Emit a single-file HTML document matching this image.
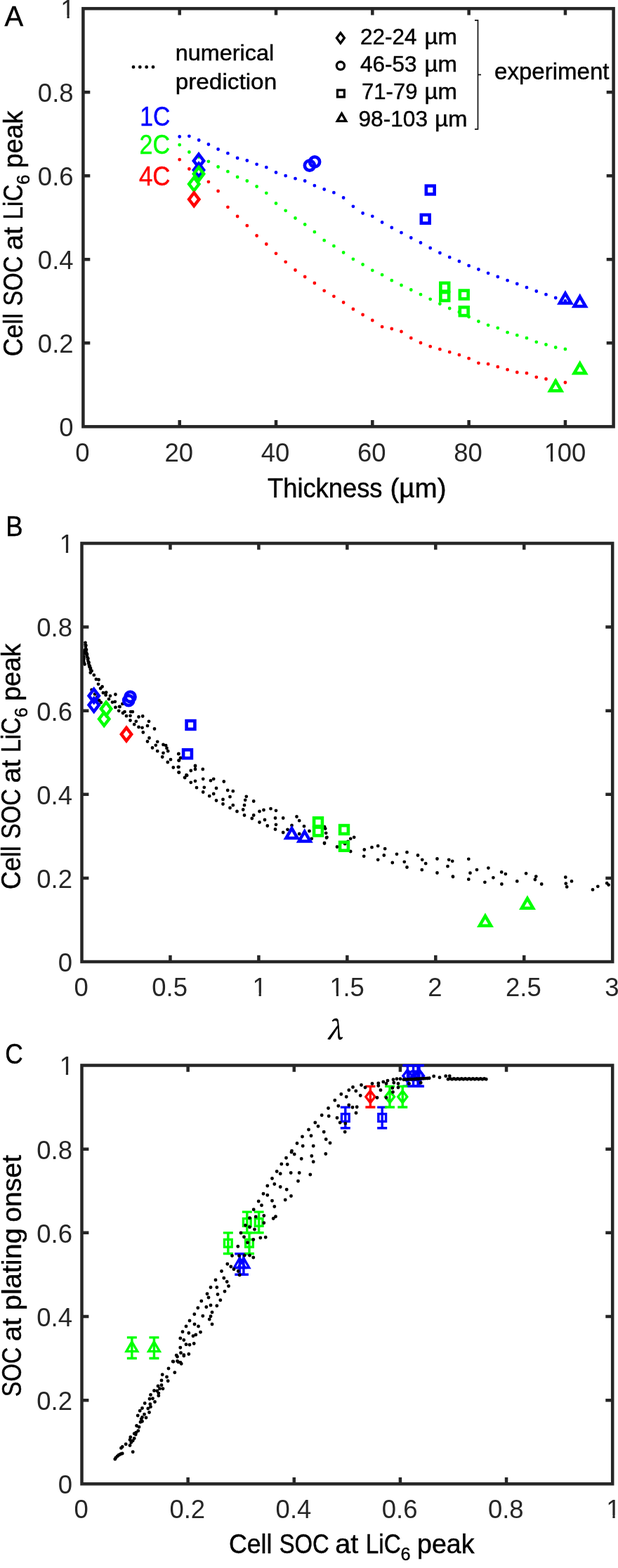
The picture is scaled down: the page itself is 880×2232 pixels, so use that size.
<!DOCTYPE html>
<html lang="en"><head><meta charset="utf-8"><title>Figure</title>
<style>html,body{margin:0;padding:0;background:#fff}svg{display:block}text{font-family:'Liberation Sans', Arial, sans-serif}</style></head><body>
<svg width="880" height="2232" viewBox="0 0 880 2232">
<rect width="880" height="2232" fill="#fff"/>
<g id="panelA">
<path d="M255.7 227.2h0M269.4 240.5h0M283.2 250.0h0M296.9 258.8h0M310.6 272.0h0M324.4 294.8h0M338.1 308.0h0M351.8 321.2h0M365.6 335.5h0M379.3 347.5h0M393.0 360.8h0M406.7 372.8h0M420.5 384.5h0M434.2 394.0h0M447.9 403.0h0M461.7 413.8h0M475.4 421.8h0M489.1 430.5h0M502.9 440.0h0M516.6 448.0h0M530.3 456.0h0M544.1 465.2h0M557.8 468.0h0M571.5 472.0h0M585.3 481.2h0M599.0 488.0h0M612.7 493.2h0M626.4 497.2h0M640.2 501.2h0M653.9 505.2h0M667.6 510.2h0M681.4 516.8h0M695.1 518.2h0M708.8 522.2h0M722.6 526.2h0M736.3 530.0h0M750.0 531.2h0M763.8 536.8h0M777.5 539.5h0M791.2 542.5h0M804.9 544.5h0" stroke="#ff0000" stroke-width="4.80" stroke-linecap="round" fill="none"/>
<path d="M255.7 206.2h0M269.4 216.5h0M283.2 223.5h0M296.9 229.8h0M310.6 237.5h0M324.4 244.2h0M338.1 252.0h0M351.8 257.5h0M365.6 265.5h0M379.3 274.8h0M393.0 289.5h0M406.7 299.8h0M420.5 310.5h0M434.2 319.5h0M447.9 330.2h0M461.7 342.2h0M475.4 350.2h0M489.1 359.5h0M502.9 368.8h0M516.6 376.5h0M530.3 384.8h0M544.1 391.2h0M557.8 399.2h0M571.5 406.0h0M585.3 412.5h0M599.0 419.2h0M612.7 425.8h0M626.4 432.5h0M640.2 439.0h0M653.9 444.2h0M667.6 451.0h0M681.4 457.5h0M695.1 462.8h0M708.8 466.8h0M722.6 473.2h0M736.3 477.2h0M750.0 481.2h0M763.8 486.8h0M777.5 490.5h0M791.2 494.5h0M804.9 497.0h0" stroke="#00ff00" stroke-width="4.80" stroke-linecap="round" fill="none"/>
<path d="M255.7 194.5h0M269.4 193.8h0M283.2 199.5h0M296.9 205.5h0M310.6 212.5h0M324.4 218.2h0M338.1 225.0h0M351.8 228.5h0M365.6 233.8h0M379.3 238.2h0M393.0 245.5h0M406.7 250.2h0M420.5 254.2h0M434.2 257.5h0M447.9 264.2h0M461.7 269.5h0M475.4 274.2h0M489.1 281.5h0M502.9 293.8h0M516.6 303.5h0M530.3 307.8h0M544.1 316.5h0M557.8 324.0h0M571.5 331.2h0M585.3 338.5h0M599.0 345.5h0M612.7 353.0h0M626.4 360.0h0M640.2 366.2h0M653.9 372.0h0M667.6 378.2h0M681.4 383.5h0M695.1 388.8h0M708.8 394.0h0M722.6 399.2h0M736.3 404.0h0M750.0 409.2h0M763.8 414.5h0M777.5 419.2h0M791.2 424.0h0M804.9 428.5h0" stroke="#0000ff" stroke-width="4.80" stroke-linecap="round" fill="none"/>
<path d="M283.00 219.50L290.15 228.90L283.00 238.30L275.85 228.90Z" fill="none" stroke="#0000ff" stroke-width="4.50" stroke-linejoin="miter" stroke-miterlimit="10"/>
<path d="M283.00 232.60L290.15 242.00L283.00 251.40L275.85 242.00Z" fill="none" stroke="#0000ff" stroke-width="4.50" stroke-linejoin="miter" stroke-miterlimit="10"/>
<circle cx="440.85" cy="235.57" r="7.00" fill="none" stroke="#0000ff" stroke-width="4.70"/>
<circle cx="448.10" cy="230.45" r="7.00" fill="none" stroke="#0000ff" stroke-width="4.70"/>
<rect x="606.85" y="264.60" width="11.80" height="11.80" fill="none" stroke="#0000ff" stroke-width="4.60"/>
<rect x="599.85" y="305.85" width="11.80" height="11.80" fill="none" stroke="#0000ff" stroke-width="4.60"/>
<path d="M805.00 417.55L813.10 431.58L796.90 431.58Z" fill="none" stroke="#0000ff" stroke-width="4.50" stroke-linejoin="miter" stroke-miterlimit="10"/>
<path d="M825.75 422.05L833.85 436.08L817.65 436.08Z" fill="none" stroke="#0000ff" stroke-width="4.50" stroke-linejoin="miter" stroke-miterlimit="10"/>
<path d="M283.00 238.20L290.15 247.60L283.00 257.00L275.85 247.60Z" fill="none" stroke="#00ff00" stroke-width="4.50" stroke-linejoin="miter" stroke-miterlimit="10"/>
<path d="M276.25 252.60L283.40 262.00L276.25 271.40L269.10 262.00Z" fill="none" stroke="#00ff00" stroke-width="4.50" stroke-linejoin="miter" stroke-miterlimit="10"/>
<rect x="627.35" y="402.85" width="11.80" height="11.80" fill="none" stroke="#00ff00" stroke-width="4.60"/>
<rect x="627.35" y="416.10" width="11.80" height="11.80" fill="none" stroke="#00ff00" stroke-width="4.60"/>
<rect x="654.85" y="413.60" width="11.80" height="11.80" fill="none" stroke="#00ff00" stroke-width="4.60"/>
<rect x="654.85" y="437.35" width="11.80" height="11.80" fill="none" stroke="#00ff00" stroke-width="4.60"/>
<path d="M825.75 517.25L833.85 531.28L817.65 531.28Z" fill="none" stroke="#00ff00" stroke-width="4.50" stroke-linejoin="miter" stroke-miterlimit="10"/>
<path d="M791.25 542.25L799.35 556.28L783.15 556.28Z" fill="none" stroke="#00ff00" stroke-width="4.50" stroke-linejoin="miter" stroke-miterlimit="10"/>
<path d="M276.25 274.35L283.40 283.75L276.25 293.15L269.10 283.75Z" fill="none" stroke="#ff0000" stroke-width="4.50" stroke-linejoin="miter" stroke-miterlimit="10"/>
<g stroke="#262626" stroke-width="4.50" fill="none" stroke-linecap="butt"><rect x="118.40" y="12.20" width="755.20" height="595.10"/><path d="M255.71 607.30v-9.20M255.71 12.20v9.20M393.02 607.30v-9.20M393.02 12.20v9.20M530.33 607.30v-9.20M530.33 12.20v9.20M667.64 607.30v-9.20M667.64 12.20v9.20M804.95 607.30v-9.20M804.95 12.20v9.20M118.40 488.28h9.90M873.60 488.28h-9.90M118.40 369.26h9.90M873.60 369.26h-9.90M118.40 250.24h9.90M873.60 250.24h-9.90M118.40 131.22h9.90M873.60 131.22h-9.90"/></g>
<g transform="translate(104.60 0) scale(0.965 1) translate(-104.60 0)">
<text x="83.58" y="621.10" font-size="37.80" fill="#262626">0</text>
</g>
<g transform="translate(104.60 0) scale(0.965 1) translate(-104.60 0)">
<text x="52.04" y="502.08" font-size="37.80" fill="#262626">0.2</text>
</g>
<g transform="translate(104.60 0) scale(0.965 1) translate(-104.60 0)">
<text x="52.04" y="383.06" font-size="37.80" fill="#262626">0.4</text>
</g>
<g transform="translate(104.60 0) scale(0.965 1) translate(-104.60 0)">
<text x="52.04" y="264.04" font-size="37.80" fill="#262626">0.6</text>
</g>
<g transform="translate(104.60 0) scale(0.965 1) translate(-104.60 0)">
<text x="52.04" y="145.02" font-size="37.80" fill="#262626">0.8</text>
</g>
<g transform="translate(104.60 0) scale(0.965 1) translate(-104.60 0)">
<text x="83.58" y="26.00" font-size="37.80" fill="#262626"><tspan dx="2.0">1</tspan></text>
<path d="M85.15 21.70h9.98v5.14h-9.98zM98.49 21.70h8.92v5.14h-8.92z" fill="#fff"/>
</g>
<g transform="translate(117.40 0) scale(0.965 1) translate(-117.40 0)">
<text x="106.89" y="656.60" font-size="37.80" fill="#262626">0</text>
</g>
<g transform="translate(254.71 0) scale(0.965 1) translate(-254.71 0)">
<text x="233.68" y="656.60" font-size="37.80" fill="#262626">20</text>
</g>
<g transform="translate(392.02 0) scale(0.965 1) translate(-392.02 0)">
<text x="370.99" y="656.60" font-size="37.80" fill="#262626">40</text>
</g>
<g transform="translate(529.33 0) scale(0.965 1) translate(-529.33 0)">
<text x="508.30" y="656.60" font-size="37.80" fill="#262626">60</text>
</g>
<g transform="translate(666.64 0) scale(0.965 1) translate(-666.64 0)">
<text x="645.61" y="656.60" font-size="37.80" fill="#262626">80</text>
</g>
<g transform="translate(803.95 0) scale(0.965 1) translate(-803.95 0)">
<text x="772.41" y="656.60" font-size="37.80" fill="#262626"><tspan dx="1.4">1</tspan><tspan dx="-1.4">00</tspan></text>
<path d="M773.98 652.30h9.38v5.14h-9.38zM786.72 652.30h8.92v5.14h-8.92z" fill="#fff"/>
</g>
<text x="6.50" y="37.00" font-size="40.00" fill="#000"  stroke="#000" stroke-width="0.45">A</text>
<text x="381.00" y="707.50" font-size="38.00" fill="#000" textLength="163.50" lengthAdjust="spacingAndGlyphs"  stroke="#000" stroke-width="0.45">Thickness</text>
<text x="555.50" y="707.50" font-size="38.00" fill="#000" textLength="80.00" lengthAdjust="spacingAndGlyphs"  stroke="#000" stroke-width="0.45">(µm)</text>
<g transform="translate(32.10 505.00) rotate(-90)">
<text x="-2.30" y="0.00" font-size="38.00" fill="#000" textLength="61.50" lengthAdjust="spacingAndGlyphs"  stroke="#000" stroke-width="0.45">Cell</text>
<text x="69.50" y="0.00" font-size="38.00" fill="#000" textLength="71.00" lengthAdjust="spacingAndGlyphs"  stroke="#000" stroke-width="0.45">SOC</text>
<text x="149.00" y="0.00" font-size="38.00" fill="#000" textLength="33.00" lengthAdjust="spacingAndGlyphs"  stroke="#000" stroke-width="0.45">at</text>
<text x="192.50" y="0.00" font-size="38.00" fill="#000" textLength="50.00" lengthAdjust="spacingAndGlyphs"  stroke="#000" stroke-width="0.45">LiC</text>
<text x="242.30" y="10.00" font-size="26.00" fill="#000" textLength="14.00" lengthAdjust="spacingAndGlyphs"  stroke="#000" stroke-width="0.45">6</text>
<text x="265.80" y="0.00" font-size="38.00" fill="#000" textLength="81.50" lengthAdjust="spacingAndGlyphs"  stroke="#000" stroke-width="0.45">peak</text>
</g>
<path d="M190.0 95.4h0M199.3 95.4h0M208.7 95.4h0M218.0 95.4h0" stroke="#000" stroke-width="4.80" stroke-linecap="round" fill="none"/>
<text x="249.70" y="85.60" font-size="32.00" fill="#000" textLength="140.50" lengthAdjust="spacingAndGlyphs"  stroke="#000" stroke-width="0.45">numerical</text>
<text x="249.70" y="127.30" font-size="32.00" fill="#000" textLength="144.50" lengthAdjust="spacingAndGlyphs"  stroke="#000" stroke-width="0.45">prediction</text>
<path d="M484.90 46.70L490.40 54.10L484.90 61.50L479.40 54.10Z" fill="none" stroke="#000" stroke-width="3.30" stroke-linejoin="miter" stroke-miterlimit="10"/>
<circle cx="484.90" cy="93.60" r="5.60" fill="none" stroke="#000" stroke-width="3.30"/>
<rect x="480.50" y="128.20" width="9.80" height="9.80" fill="none" stroke="#000" stroke-width="3.30"/>
<path d="M486.50 161.43L492.80 172.34L480.20 172.34Z" fill="none" stroke="#000" stroke-width="3.30" stroke-linejoin="miter" stroke-miterlimit="10"/>
<text x="513.00" y="63.30" font-size="31.50" fill="#000" textLength="80.50" lengthAdjust="spacingAndGlyphs"  stroke="#000" stroke-width="0.45">22-24</text>
<text x="604.50" y="63.30" font-size="31.50" fill="#000" textLength="46.50" lengthAdjust="spacingAndGlyphs"  stroke="#000" stroke-width="0.45">µm</text>
<text x="513.00" y="102.30" font-size="31.50" fill="#000" textLength="80.50" lengthAdjust="spacingAndGlyphs"  stroke="#000" stroke-width="0.45">46-53</text>
<text x="604.50" y="102.30" font-size="31.50" fill="#000" textLength="46.50" lengthAdjust="spacingAndGlyphs"  stroke="#000" stroke-width="0.45">µm</text>
<text x="515.00" y="141.30" font-size="31.50" fill="#000" textLength="79.50" lengthAdjust="spacingAndGlyphs"  stroke="#000" stroke-width="0.45">71-79</text>
<text x="604.50" y="141.30" font-size="31.50" fill="#000" textLength="46.50" lengthAdjust="spacingAndGlyphs"  stroke="#000" stroke-width="0.45">µm</text>
<text x="510.50" y="180.30" font-size="31.50" fill="#000" textLength="98.50" lengthAdjust="spacingAndGlyphs"  stroke="#000" stroke-width="0.45">98-103</text>
<text x="619.00" y="180.30" font-size="31.50" fill="#000" textLength="46.50" lengthAdjust="spacingAndGlyphs"  stroke="#000" stroke-width="0.45">µm</text>
<path d="M676 28.8H680.5V183.8H676M680.5 106.3H685" stroke="#111" stroke-width="1.7" fill="none"/>
<text x="704.00" y="112.50" font-size="32.50" fill="#000" textLength="163.50" lengthAdjust="spacingAndGlyphs"  stroke="#000" stroke-width="0.45">experiment</text>
<text x="199.30" y="179.00" font-size="38.00" fill="#0000ff" textLength="43.00" lengthAdjust="spacingAndGlyphs"  stroke="#0000ff" stroke-width="0.45">1C</text>
<text x="198.50" y="218.50" font-size="38.00" fill="#00ff00" textLength="43.50" lengthAdjust="spacingAndGlyphs"  stroke="#00ff00" stroke-width="0.45">2C</text>
<text x="198.00" y="263.70" font-size="38.00" fill="#ff0000" textLength="44.50" lengthAdjust="spacingAndGlyphs"  stroke="#ff0000" stroke-width="0.45">4C</text>
</g>
<g id="panelB">
<path d="M121.5 914.8h0M121.6 917.5h0M121.9 920.0h0M122.1 923.1h0M122.5 926.2h0M123.1 929.4h0M123.8 932.5h0M124.4 935.6h0M125.0 938.8h0M125.6 941.6h0M126.2 944.4h0M126.9 946.9h0M127.5 949.4h0M128.8 953.1h0M130.6 955.0h0M128.8 957.5h0M133.8 960.9h0M136.9 966.9h0M140.6 967.5h0M140.0 973.8h0M145.6 977.5h0M143.1 980.0h0M130.6 981.9h0M146.9 986.2h0M151.2 985.6h0M150.6 989.4h0M156.9 990.6h0M164.4 988.5h0M155.0 995.2h0M160.0 999.6h0M163.8 998.8h0M164.4 1006.9h0M170.6 1006.0h0M174.4 1001.9h0M120.5 925.6h0M119.8 930.6h0M119.4 935.0h0M119.1 940.0h0M119.6 943.1h0M120.6 945.6h0M120.0 928.1h0M119.5 937.5h0M122.4 918.8h0M123.0 925.0h0M124.0 931.2h0M125.4 937.5h0M126.6 943.1h0M127.9 948.1h0M129.0 951.2h0M135.0 988.1h0M138.1 992.5h0M141.2 996.9h0M143.8 1000.0h0M164.5 1006.8h0M170.0 1005.8h0M169.2 1011.8h0M175.0 1015.0h0M177.5 1013.2h0M180.0 1019.2h0M185.5 1018.8h0M186.2 1013.2h0M188.8 1013.2h0M185.5 1025.5h0M197.5 1020.5h0M203.2 1019.5h0M193.8 1026.8h0M191.2 1031.2h0M197.5 1035.0h0M202.5 1035.8h0M212.0 1026.8h0M210.0 1033.2h0M220.0 1037.5h0M203.8 1042.5h0M212.5 1050.5h0M210.0 1055.5h0M224.2 1055.8h0M221.8 1060.8h0M217.0 1064.5h0M232.5 1060.0h0M236.2 1061.2h0M237.5 1065.0h0M239.2 1069.2h0M224.2 1069.2h0M232.5 1071.8h0M231.2 1077.5h0M243.0 1081.2h0M238.8 1085.0h0M254.2 1073.2h0M257.5 1078.8h0M255.0 1082.5h0M246.8 1092.5h0M253.8 1091.8h0M255.0 1099.5h0M278.0 1090.0h0M278.0 1095.0h0M271.8 1097.0h0M288.8 1095.0h0M265.5 1103.2h0M263.2 1107.0h0M254.5 1073.0h0M257.0 1078.8h0M254.5 1082.5h0M254.5 1091.8h0M254.5 1099.5h0M278.0 1090.5h0M278.0 1095.0h0M271.8 1097.0h0M288.8 1095.0h0M266.2 1103.8h0M263.0 1106.8h0M271.8 1113.8h0M278.0 1111.8h0M289.2 1108.8h0M300.0 1111.2h0M304.2 1108.8h0M318.8 1112.5h0M280.0 1121.2h0M290.8 1120.8h0M289.2 1127.5h0M308.0 1122.0h0M298.2 1133.2h0M304.2 1130.0h0M324.2 1125.0h0M331.8 1126.2h0M308.0 1139.5h0M317.5 1138.0h0M327.5 1134.2h0M317.5 1144.5h0M350.8 1133.8h0M349.2 1138.8h0M361.2 1140.5h0M331.8 1146.2h0M327.5 1150.0h0M348.0 1146.2h0M346.2 1152.5h0M337.5 1155.0h0M348.0 1160.5h0M361.2 1160.5h0M358.8 1165.0h0M369.5 1155.0h0M375.5 1153.0h0M385.5 1151.2h0M393.0 1153.8h0M369.5 1170.5h0M377.0 1167.0h0M380.8 1175.5h0M392.0 1164.5h0M393.0 1173.8h0M392.0 1180.5h0M403.2 1164.5h0M422.5 1162.5h0M426.2 1168.2h0M403.2 1185.0h0M409.5 1180.8h0M415.5 1175.0h0M433.0 1176.2h0M440.5 1183.0h0M426.2 1187.0h0M443.8 1193.8h0M462.0 1176.8h0M463.2 1179.5h0M464.2 1185.8h0M465.5 1191.8h0M462.0 1200.5h0M465.0 1192.5h0M462.0 1200.0h0M480.0 1205.5h0M491.2 1201.2h0M495.5 1198.0h0M499.2 1193.8h0M504.2 1191.8h0M499.2 1212.0h0M518.8 1209.5h0M518.2 1218.8h0M529.5 1206.2h0M538.2 1204.2h0M548.2 1208.2h0M546.8 1217.5h0M538.2 1223.8h0M565.0 1215.8h0M558.8 1228.0h0M579.5 1213.2h0M575.8 1226.8h0M579.5 1234.5h0M595.0 1217.5h0M601.2 1223.8h0M606.2 1229.2h0M600.8 1238.2h0M622.5 1222.5h0M622.5 1242.5h0M639.2 1223.8h0M644.2 1225.8h0M637.5 1233.2h0M645.0 1248.0h0M644.9 1247.6h0M667.3 1222.8h0M669.5 1242.7h0M667.3 1251.7h0M679.0 1238.1h0M695.4 1235.6h0M690.4 1255.8h0M702.4 1249.3h0M714.2 1241.4h0M719.9 1244.1h0M714.4 1258.5h0M736.3 1254.4h0M749.1 1243.3h0M763.3 1247.6h0M761.9 1252.0h0M771.2 1258.5h0M805.3 1248.7h0M805.8 1257.7h0M807.2 1262.4h0M814.0 1254.4h0M844.0 1266.4h0M851.3 1261.8h0M864.2 1257.2h0M866.6 1259.6h0" stroke="#000" stroke-width="4.80" stroke-linecap="round" fill="none"/>
<path d="M133.75 981.00L140.90 990.40L133.75 999.80L126.60 990.40Z" fill="none" stroke="#0000ff" stroke-width="4.50" stroke-linejoin="miter" stroke-miterlimit="10"/>
<path d="M133.75 994.10L140.90 1003.50L133.75 1012.90L126.60 1003.50Z" fill="none" stroke="#0000ff" stroke-width="4.50" stroke-linejoin="miter" stroke-miterlimit="10"/>
<circle cx="183.20" cy="997.07" r="7.00" fill="none" stroke="#0000ff" stroke-width="4.70"/>
<circle cx="185.50" cy="991.95" r="7.00" fill="none" stroke="#0000ff" stroke-width="4.70"/>
<rect x="265.60" y="1026.10" width="11.80" height="11.80" fill="none" stroke="#0000ff" stroke-width="4.60"/>
<rect x="261.10" y="1067.35" width="11.80" height="11.80" fill="none" stroke="#0000ff" stroke-width="4.60"/>
<path d="M415.50 1179.05L423.60 1193.08L407.40 1193.08Z" fill="none" stroke="#0000ff" stroke-width="4.50" stroke-linejoin="miter" stroke-miterlimit="10"/>
<path d="M433.75 1183.55L441.85 1197.58L425.65 1197.58Z" fill="none" stroke="#0000ff" stroke-width="4.50" stroke-linejoin="miter" stroke-miterlimit="10"/>
<path d="M151.10 999.70L158.25 1009.10L151.10 1018.50L143.95 1009.10Z" fill="none" stroke="#00ff00" stroke-width="4.50" stroke-linejoin="miter" stroke-miterlimit="10"/>
<path d="M148.20 1014.10L155.35 1023.50L148.20 1032.90L141.05 1023.50Z" fill="none" stroke="#00ff00" stroke-width="4.50" stroke-linejoin="miter" stroke-miterlimit="10"/>
<rect x="447.10" y="1164.35" width="11.80" height="11.80" fill="none" stroke="#00ff00" stroke-width="4.60"/>
<rect x="447.10" y="1177.60" width="11.80" height="11.80" fill="none" stroke="#00ff00" stroke-width="4.60"/>
<rect x="484.10" y="1175.10" width="11.80" height="11.80" fill="none" stroke="#00ff00" stroke-width="4.60"/>
<rect x="484.10" y="1198.85" width="11.80" height="11.80" fill="none" stroke="#00ff00" stroke-width="4.60"/>
<path d="M751.00 1278.75L759.10 1292.78L742.90 1292.78Z" fill="none" stroke="#00ff00" stroke-width="4.50" stroke-linejoin="miter" stroke-miterlimit="10"/>
<path d="M691.00 1303.75L699.10 1317.78L682.90 1317.78Z" fill="none" stroke="#00ff00" stroke-width="4.50" stroke-linejoin="miter" stroke-miterlimit="10"/>
<path d="M180.00 1035.85L187.15 1045.25L180.00 1054.65L172.85 1045.25Z" fill="none" stroke="#ff0000" stroke-width="4.50" stroke-linejoin="miter" stroke-miterlimit="10"/>
<g stroke="#262626" stroke-width="4.50" fill="none" stroke-linecap="butt"><rect x="116.50" y="773.40" width="755.70" height="595.60"/><path d="M242.45 1369.00v-9.20M242.45 773.40v9.20M368.40 1369.00v-9.20M368.40 773.40v9.20M494.35 1369.00v-9.20M494.35 773.40v9.20M620.30 1369.00v-9.20M620.30 773.40v9.20M746.25 1369.00v-9.20M746.25 773.40v9.20M116.50 1249.88h9.90M872.20 1249.88h-9.90M116.50 1130.76h9.90M872.20 1130.76h-9.90M116.50 1011.64h9.90M872.20 1011.64h-9.90M116.50 892.52h9.90M872.20 892.52h-9.90"/></g>
<g transform="translate(103.00 0) scale(0.965 1) translate(-103.00 0)">
<text x="81.98" y="1382.90" font-size="37.80" fill="#262626">0</text>
</g>
<g transform="translate(103.00 0) scale(0.965 1) translate(-103.00 0)">
<text x="50.44" y="1263.78" font-size="37.80" fill="#262626">0.2</text>
</g>
<g transform="translate(103.00 0) scale(0.965 1) translate(-103.00 0)">
<text x="50.44" y="1144.66" font-size="37.80" fill="#262626">0.4</text>
</g>
<g transform="translate(103.00 0) scale(0.965 1) translate(-103.00 0)">
<text x="50.44" y="1025.54" font-size="37.80" fill="#262626">0.6</text>
</g>
<g transform="translate(103.00 0) scale(0.965 1) translate(-103.00 0)">
<text x="50.44" y="906.42" font-size="37.80" fill="#262626">0.8</text>
</g>
<g transform="translate(103.00 0) scale(0.965 1) translate(-103.00 0)">
<text x="81.98" y="787.30" font-size="37.80" fill="#262626"><tspan dx="2.0">1</tspan></text>
<path d="M83.55 783.00h9.98v5.14h-9.98zM96.89 783.00h8.92v5.14h-8.92z" fill="#fff"/>
</g>
<g transform="translate(115.70 0) scale(0.965 1) translate(-115.70 0)">
<text x="105.19" y="1417.90" font-size="37.80" fill="#262626">0</text>
</g>
<g transform="translate(241.65 0) scale(0.965 1) translate(-241.65 0)">
<text x="215.37" y="1417.90" font-size="37.80" fill="#262626">0.5</text>
</g>
<g transform="translate(367.60 0) scale(0.965 1) translate(-367.60 0)">
<text x="357.09" y="1417.90" font-size="37.80" fill="#262626"><tspan dx="2.0">1</tspan></text>
<path d="M358.66 1413.60h9.98v5.14h-9.98zM372.00 1413.60h8.92v5.14h-8.92z" fill="#fff"/>
</g>
<g transform="translate(493.55 0) scale(0.965 1) translate(-493.55 0)">
<text x="467.27" y="1417.90" font-size="37.80" fill="#262626"><tspan dx="1.4">1</tspan><tspan dx="-1.4">.5</tspan></text>
<path d="M468.85 1413.60h9.38v5.14h-9.38zM481.59 1413.60h8.92v5.14h-8.92z" fill="#fff"/>
</g>
<g transform="translate(619.50 0) scale(0.965 1) translate(-619.50 0)">
<text x="608.99" y="1417.90" font-size="37.80" fill="#262626">2</text>
</g>
<g transform="translate(745.45 0) scale(0.965 1) translate(-745.45 0)">
<text x="719.17" y="1417.90" font-size="37.80" fill="#262626">2.5</text>
</g>
<g transform="translate(871.40 0) scale(0.965 1) translate(-871.40 0)">
<text x="860.89" y="1417.90" font-size="37.80" fill="#262626">3</text>
</g>
<text x="8.30" y="762.50" font-size="40.00" fill="#000" textLength="24.30" lengthAdjust="spacingAndGlyphs"  stroke="#000" stroke-width="0.45">B</text>
<g transform="translate(28.70 1263.60) rotate(-90)">
<text x="-2.30" y="0.00" font-size="38.00" fill="#000" textLength="61.50" lengthAdjust="spacingAndGlyphs"  stroke="#000" stroke-width="0.45">Cell</text>
<text x="69.50" y="0.00" font-size="38.00" fill="#000" textLength="71.00" lengthAdjust="spacingAndGlyphs"  stroke="#000" stroke-width="0.45">SOC</text>
<text x="149.00" y="0.00" font-size="38.00" fill="#000" textLength="33.00" lengthAdjust="spacingAndGlyphs"  stroke="#000" stroke-width="0.45">at</text>
<text x="192.50" y="0.00" font-size="38.00" fill="#000" textLength="50.00" lengthAdjust="spacingAndGlyphs"  stroke="#000" stroke-width="0.45">LiC</text>
<text x="242.30" y="10.00" font-size="26.00" fill="#000" textLength="14.00" lengthAdjust="spacingAndGlyphs"  stroke="#000" stroke-width="0.45">6</text>
<text x="265.80" y="0.00" font-size="38.00" fill="#000" textLength="81.50" lengthAdjust="spacingAndGlyphs"  stroke="#000" stroke-width="0.45">peak</text>
</g>
<text x="466" y="1479.3" font-size="36" fill="#000" stroke="#000" stroke-width="0.9" style="font-family:'Noto Serif CJK SC','Liberation Serif',serif;font-style:italic">λ</text>
</g>
<g id="panelC">
<g stroke="#262626" stroke-width="4.50" fill="none" stroke-linecap="butt"><rect x="116.50" y="1516.50" width="755.70" height="595.80"/><path d="M267.64 2112.30v-9.20M267.64 1516.50v9.20M418.78 2112.30v-9.20M418.78 1516.50v9.20M569.92 2112.30v-9.20M569.92 1516.50v9.20M721.06 2112.30v-9.20M721.06 1516.50v9.20M116.50 1993.14h9.90M872.20 1993.14h-9.90M116.50 1873.98h9.90M872.20 1873.98h-9.90M116.50 1754.82h9.90M872.20 1754.82h-9.90M116.50 1635.66h9.90M872.20 1635.66h-9.90"/></g>
<path d="M597.02 1516.60V1546.19M590.02 1516.60h14.00M590.02 1546.19h14.00" stroke="#0000ff" stroke-width="3.40" fill="none"/>
<path d="M597.02 1522.89L603.52 1531.39L597.02 1539.89L590.52 1531.39Z" fill="none" stroke="#0000ff" stroke-width="3.40" stroke-linejoin="miter" stroke-miterlimit="10"/>
<path d="M580.38 1516.60V1546.19M573.38 1516.60h14.00M573.38 1546.19h14.00" stroke="#0000ff" stroke-width="3.40" fill="none"/>
<path d="M580.38 1522.89L586.88 1531.39L580.38 1539.89L573.88 1531.39Z" fill="none" stroke="#0000ff" stroke-width="3.40" stroke-linejoin="miter" stroke-miterlimit="10"/>
<path d="M588.55 1516.60V1546.19M581.55 1516.60h14.00M581.55 1546.19h14.00" stroke="#0000ff" stroke-width="3.40" fill="none"/>
<circle cx="588.55" cy="1531.39" r="6.60" fill="none" stroke="#0000ff" stroke-width="3.40"/>
<path d="M595.05 1516.60V1546.19M588.05 1516.60h14.00M588.05 1546.19h14.00" stroke="#0000ff" stroke-width="3.40" fill="none"/>
<circle cx="595.05" cy="1531.39" r="6.60" fill="none" stroke="#0000ff" stroke-width="3.40"/>
<path d="M544.19 1576.17V1605.77M537.19 1576.17h14.00M537.19 1605.77h14.00" stroke="#0000ff" stroke-width="3.40" fill="none"/>
<rect x="538.84" y="1585.62" width="10.70" height="10.70" fill="none" stroke="#0000ff" stroke-width="3.40"/>
<path d="M491.81 1576.17V1605.77M484.81 1576.17h14.00M484.81 1605.77h14.00" stroke="#0000ff" stroke-width="3.40" fill="none"/>
<rect x="486.46" y="1585.62" width="10.70" height="10.70" fill="none" stroke="#0000ff" stroke-width="3.40"/>
<path d="M341.25 1784.71V1814.31M334.25 1784.71h14.00M334.25 1814.31h14.00" stroke="#0000ff" stroke-width="3.40" fill="none"/>
<path d="M341.25 1790.84L349.10 1804.44L333.40 1804.44Z" fill="none" stroke="#0000ff" stroke-width="3.40" stroke-linejoin="miter" stroke-miterlimit="10"/>
<path d="M346.91 1784.71V1814.31M339.91 1784.71h14.00M339.91 1814.31h14.00" stroke="#0000ff" stroke-width="3.40" fill="none"/>
<path d="M346.91 1790.84L354.76 1804.44L339.06 1804.44Z" fill="none" stroke="#0000ff" stroke-width="3.40" stroke-linejoin="miter" stroke-miterlimit="10"/>
<path d="M573.27 1546.38V1575.98M566.27 1546.38h14.00M566.27 1575.98h14.00" stroke="#00ff00" stroke-width="3.40" fill="none"/>
<path d="M573.27 1552.68L579.77 1561.18L573.27 1569.68L566.77 1561.18Z" fill="none" stroke="#00ff00" stroke-width="3.40" stroke-linejoin="miter" stroke-miterlimit="10"/>
<path d="M554.99 1546.38V1575.98M547.99 1546.38h14.00M547.99 1575.98h14.00" stroke="#00ff00" stroke-width="3.40" fill="none"/>
<path d="M554.99 1552.68L561.49 1561.18L554.99 1569.68L548.49 1561.18Z" fill="none" stroke="#00ff00" stroke-width="3.40" stroke-linejoin="miter" stroke-miterlimit="10"/>
<path d="M368.63 1725.13V1754.73M361.63 1725.13h14.00M361.63 1754.73h14.00" stroke="#00ff00" stroke-width="3.40" fill="none"/>
<rect x="363.28" y="1734.58" width="10.70" height="10.70" fill="none" stroke="#00ff00" stroke-width="3.40"/>
<path d="M351.81 1725.13V1754.73M344.81 1725.13h14.00M344.81 1754.73h14.00" stroke="#00ff00" stroke-width="3.40" fill="none"/>
<rect x="346.46" y="1734.58" width="10.70" height="10.70" fill="none" stroke="#00ff00" stroke-width="3.40"/>
<path d="M354.98 1754.92V1784.52M347.98 1754.92h14.00M347.98 1784.52h14.00" stroke="#00ff00" stroke-width="3.40" fill="none"/>
<rect x="349.63" y="1764.37" width="10.70" height="10.70" fill="none" stroke="#00ff00" stroke-width="3.40"/>
<path d="M324.82 1754.92V1784.52M317.82 1754.92h14.00M317.82 1784.52h14.00" stroke="#00ff00" stroke-width="3.40" fill="none"/>
<rect x="319.47" y="1764.37" width="10.70" height="10.70" fill="none" stroke="#00ff00" stroke-width="3.40"/>
<path d="M187.84 1903.87V1933.47M180.84 1903.87h14.00M180.84 1933.47h14.00" stroke="#00ff00" stroke-width="3.40" fill="none"/>
<path d="M187.84 1910.00L195.69 1923.60L179.99 1923.60Z" fill="none" stroke="#00ff00" stroke-width="3.40" stroke-linejoin="miter" stroke-miterlimit="10"/>
<path d="M219.43 1903.87V1933.47M212.43 1903.87h14.00M212.43 1933.47h14.00" stroke="#00ff00" stroke-width="3.40" fill="none"/>
<path d="M219.43 1910.00L227.28 1923.60L211.58 1923.60Z" fill="none" stroke="#00ff00" stroke-width="3.40" stroke-linejoin="miter" stroke-miterlimit="10"/>
<path d="M527.37 1546.38V1575.98M520.37 1546.38h14.00M520.37 1575.98h14.00" stroke="#ff0000" stroke-width="3.40" fill="none"/>
<path d="M527.37 1552.68L533.87 1561.18L527.37 1569.68L520.87 1561.18Z" fill="none" stroke="#ff0000" stroke-width="3.40" stroke-linejoin="miter" stroke-miterlimit="10"/>
<path d="M163.8 2077.0h0M165.0 2075.0h0M167.0 2073.0h0M168.8 2071.5h0M170.5 2070.5h0M172.5 2069.5h0M174.2 2069.0h0M172.5 2061.2h0M174.2 2059.5h0M179.2 2055.8h0M189.2 2066.8h0M185.0 2057.5h0M186.8 2053.2h0M189.2 2050.8h0M191.2 2047.5h0M185.8 2045.8h0M185.0 2049.5h0M191.2 2040.8h0M193.8 2039.2h0M193.2 2042.0h0M196.8 2036.8h0M198.0 2031.2h0M194.5 2029.5h0M200.0 2024.2h0M202.5 2023.2h0M201.2 2020.0h0M202.5 2017.5h0M208.0 2018.0h0M205.5 2013.2h0M196.2 2015.0h0M199.2 2008.2h0M202.5 2004.5h0M212.5 2010.5h0M210.8 2005.0h0M214.5 2002.5h0M213.8 1998.8h0M206.2 1997.5h0M213.0 1991.2h0M217.5 1990.8h0M220.5 1995.5h0M214.5 1985.5h0M219.5 1979.5h0M223.8 1980.0h0M225.8 1983.2h0M225.8 1986.8h0M225.0 1973.0h0M227.5 1976.8h0M232.0 1976.8h0M230.0 1971.8h0M230.0 1965.0h0M231.2 1956.8h0M237.5 1960.0h0M239.2 1965.8h0M240.0 1948.0h0M248.8 1953.8h0M246.8 1938.2h0M253.8 1938.8h0M258.2 1941.2h0M252.5 1931.2h0M261.8 1930.0h0M246.2 1938.0h0M252.5 1937.5h0M257.0 1939.5h0M251.2 1929.2h0M257.5 1925.8h0M261.8 1928.8h0M268.8 1927.5h0M256.8 1918.2h0M265.0 1913.8h0M270.0 1914.2h0M276.2 1912.5h0M256.8 1905.0h0M261.8 1907.5h0M260.0 1895.8h0M268.8 1897.5h0M275.0 1901.8h0M278.8 1900.0h0M285.5 1896.2h0M265.0 1888.0h0M277.0 1885.0h0M282.5 1888.0h0M270.0 1880.0h0M276.8 1870.8h0M288.8 1873.2h0M298.2 1878.0h0M300.0 1873.8h0M302.0 1868.0h0M302.0 1885.0h0M281.8 1861.8h0M293.8 1860.5h0M300.0 1858.0h0M308.8 1858.8h0M286.8 1852.0h0M297.0 1847.0h0M313.8 1850.8h0M295.0 1841.8h0M310.0 1842.5h0M320.0 1838.2h0M300.0 1832.5h0M308.8 1832.5h0M325.5 1830.8h0M307.0 1822.0h0M318.8 1819.2h0M323.2 1824.5h0M315.5 1809.5h0M323.8 1799.2h0M328.8 1803.0h0M333.0 1806.8h0M339.2 1809.5h0M341.2 1815.0h0M360.8 1790.0h0M330.5 1787.5h0M340.5 1787.5h0M348.2 1787.0h0M355.5 1787.0h0M338.8 1774.2h0M352.5 1768.8h0M347.5 1760.8h0M360.8 1764.5h0M370.8 1762.0h0M378.2 1761.2h0M343.0 1755.0h0M362.5 1750.0h0M349.5 1744.2h0M355.5 1746.8h0M375.8 1740.8h0M355.5 1733.8h0M364.2 1732.0h0M375.8 1730.5h0M389.2 1734.5h0M392.5 1731.8h0M361.2 1721.8h0M372.5 1715.8h0M390.8 1717.5h0M368.2 1710.0h0M387.5 1709.2h0M406.2 1708.0h0M375.0 1699.2h0M380.8 1701.2h0M414.5 1702.5h0M380.8 1688.0h0M390.8 1685.5h0M399.2 1689.5h0M408.2 1693.2h0M387.5 1677.5h0M424.5 1681.2h0M394.2 1667.5h0M399.2 1670.8h0M414.2 1669.5h0M426.2 1669.5h0M441.8 1672.0h0M400.8 1657.0h0M409.2 1657.5h0M407.5 1648.2h0M429.2 1649.5h0M446.2 1653.8h0M419.2 1643.0h0M443.8 1645.5h0M463.8 1642.5h0M415.0 1640.0h0M415.5 1638.2h0M423.0 1627.5h0M431.2 1631.2h0M446.2 1631.2h0M470.0 1627.0h0M430.5 1618.0h0M443.0 1616.8h0M464.2 1621.8h0M439.5 1608.0h0M461.2 1611.2h0M491.2 1611.2h0M448.8 1598.0h0M453.0 1603.2h0M458.2 1587.5h0M468.2 1588.8h0M480.0 1591.2h0M484.2 1598.0h0M491.8 1599.2h0M467.5 1577.5h0M481.8 1574.2h0M496.8 1573.0h0M502.0 1576.2h0M508.2 1575.8h0M507.0 1584.2h0M476.8 1566.2h0M485.8 1557.5h0M493.2 1561.2h0M496.8 1551.8h0M502.5 1547.5h0M506.8 1553.0h0M513.2 1559.5h0M514.5 1544.5h0M520.0 1548.0h0M530.0 1542.5h0M538.8 1542.0h0M538.8 1545.5h0M545.8 1540.0h0M552.0 1538.2h0M550.0 1542.5h0M542.0 1551.8h0M537.0 1562.5h0M550.0 1562.5h0M559.5 1554.5h0M558.8 1548.8h0M560.8 1541.2h0M560.0 1536.8h0M565.0 1535.8h0M570.0 1535.8h0M567.0 1542.5h0M567.0 1548.0h0M582.5 1542.5h0M599.2 1541.2h0M574.8 1536.8h0M577.4 1536.7h0M580.0 1536.5h0M582.6 1536.4h0M585.2 1536.2h0M587.8 1536.1h0M590.4 1536.0h0M593.0 1535.8h0M595.6 1535.7h0M598.2 1535.5h0M600.8 1535.4h0M603.4 1535.2h0M606.0 1535.1h0M608.6 1535.0h0M611.2 1534.8h0M617.7 1532.0h0M626.0 1533.7h0M634.7 1531.7h0M640.2 1531.7h0M638.0 1536.2h0M641.0 1535.4h0M643.7 1536.3h0M646.4 1535.4h0M649.1 1536.3h0M651.8 1535.4h0M654.5 1536.3h0M657.2 1535.4h0M659.9 1536.3h0M662.6 1535.4h0M665.3 1536.3h0M668.0 1535.4h0M670.7 1536.3h0M673.4 1535.4h0M676.1 1536.3h0M678.8 1535.4h0M681.5 1536.3h0M684.2 1535.4h0M686.9 1536.3h0M689.6 1535.4h0M692.3 1536.3h0" stroke="#000" stroke-width="4.90" stroke-linecap="round" fill="none"/>
<g transform="translate(103.00 0) scale(0.965 1) translate(-103.00 0)">
<text x="81.98" y="2126.30" font-size="37.80" fill="#262626">0</text>
</g>
<g transform="translate(103.00 0) scale(0.965 1) translate(-103.00 0)">
<text x="50.44" y="2007.14" font-size="37.80" fill="#262626">0.2</text>
</g>
<g transform="translate(103.00 0) scale(0.965 1) translate(-103.00 0)">
<text x="50.44" y="1887.98" font-size="37.80" fill="#262626">0.4</text>
</g>
<g transform="translate(103.00 0) scale(0.965 1) translate(-103.00 0)">
<text x="50.44" y="1768.82" font-size="37.80" fill="#262626">0.6</text>
</g>
<g transform="translate(103.00 0) scale(0.965 1) translate(-103.00 0)">
<text x="50.44" y="1649.66" font-size="37.80" fill="#262626">0.8</text>
</g>
<g transform="translate(103.00 0) scale(0.965 1) translate(-103.00 0)">
<text x="81.98" y="1530.50" font-size="37.80" fill="#262626"><tspan dx="2.0">1</tspan></text>
<path d="M83.55 1526.19h9.98v5.14h-9.98zM96.89 1526.19h8.92v5.14h-8.92z" fill="#fff"/>
</g>
<g transform="translate(115.70 0) scale(0.965 1) translate(-115.70 0)">
<text x="105.19" y="2161.20" font-size="37.80" fill="#262626">0</text>
</g>
<g transform="translate(266.84 0) scale(0.965 1) translate(-266.84 0)">
<text x="240.56" y="2161.20" font-size="37.80" fill="#262626">0.2</text>
</g>
<g transform="translate(417.98 0) scale(0.965 1) translate(-417.98 0)">
<text x="391.70" y="2161.20" font-size="37.80" fill="#262626">0.4</text>
</g>
<g transform="translate(569.12 0) scale(0.965 1) translate(-569.12 0)">
<text x="542.84" y="2161.20" font-size="37.80" fill="#262626">0.6</text>
</g>
<g transform="translate(720.26 0) scale(0.965 1) translate(-720.26 0)">
<text x="693.98" y="2161.20" font-size="37.80" fill="#262626">0.8</text>
</g>
<g transform="translate(871.40 0) scale(0.965 1) translate(-871.40 0)">
<text x="860.89" y="2161.20" font-size="37.80" fill="#262626"><tspan dx="2.0">1</tspan></text>
<path d="M862.46 2156.89h9.98v5.14h-9.98zM875.80 2156.89h8.92v5.14h-8.92z" fill="#fff"/>
</g>
<text x="7.30" y="1514.30" font-size="40.00" fill="#000" textLength="25.50" lengthAdjust="spacingAndGlyphs"  stroke="#000" stroke-width="0.45">C</text>
<g transform="translate(328.2 2210.9)">
<text x="-2.30" y="0.00" font-size="38.00" fill="#000" textLength="61.50" lengthAdjust="spacingAndGlyphs"  stroke="#000" stroke-width="0.45">Cell</text>
<text x="69.50" y="0.00" font-size="38.00" fill="#000" textLength="71.00" lengthAdjust="spacingAndGlyphs"  stroke="#000" stroke-width="0.45">SOC</text>
<text x="149.00" y="0.00" font-size="38.00" fill="#000" textLength="33.00" lengthAdjust="spacingAndGlyphs"  stroke="#000" stroke-width="0.45">at</text>
<text x="192.50" y="0.00" font-size="38.00" fill="#000" textLength="50.00" lengthAdjust="spacingAndGlyphs"  stroke="#000" stroke-width="0.45">LiC</text>
<text x="242.30" y="10.00" font-size="26.00" fill="#000" textLength="14.00" lengthAdjust="spacingAndGlyphs"  stroke="#000" stroke-width="0.45">6</text>
<text x="265.80" y="0.00" font-size="38.00" fill="#000" textLength="81.50" lengthAdjust="spacingAndGlyphs"  stroke="#000" stroke-width="0.45">peak</text>
</g>
<g transform="translate(30.0 1986.2) rotate(-90)">
<text x="-2.00" y="0.00" font-size="38.00" fill="#000" textLength="70.50" lengthAdjust="spacingAndGlyphs"  stroke="#000" stroke-width="0.45">SOC</text>
<text x="77.00" y="0.00" font-size="38.00" fill="#000" textLength="33.00" lengthAdjust="spacingAndGlyphs"  stroke="#000" stroke-width="0.45">at</text>
<text x="121.00" y="0.00" font-size="38.00" fill="#000" textLength="117.00" lengthAdjust="spacingAndGlyphs"  stroke="#000" stroke-width="0.45">plating</text>
<text x="246.50" y="0.00" font-size="38.00" fill="#000" textLength="95.50" lengthAdjust="spacingAndGlyphs"  stroke="#000" stroke-width="0.45">onset</text>
</g>
</g>
</svg></body></html>
